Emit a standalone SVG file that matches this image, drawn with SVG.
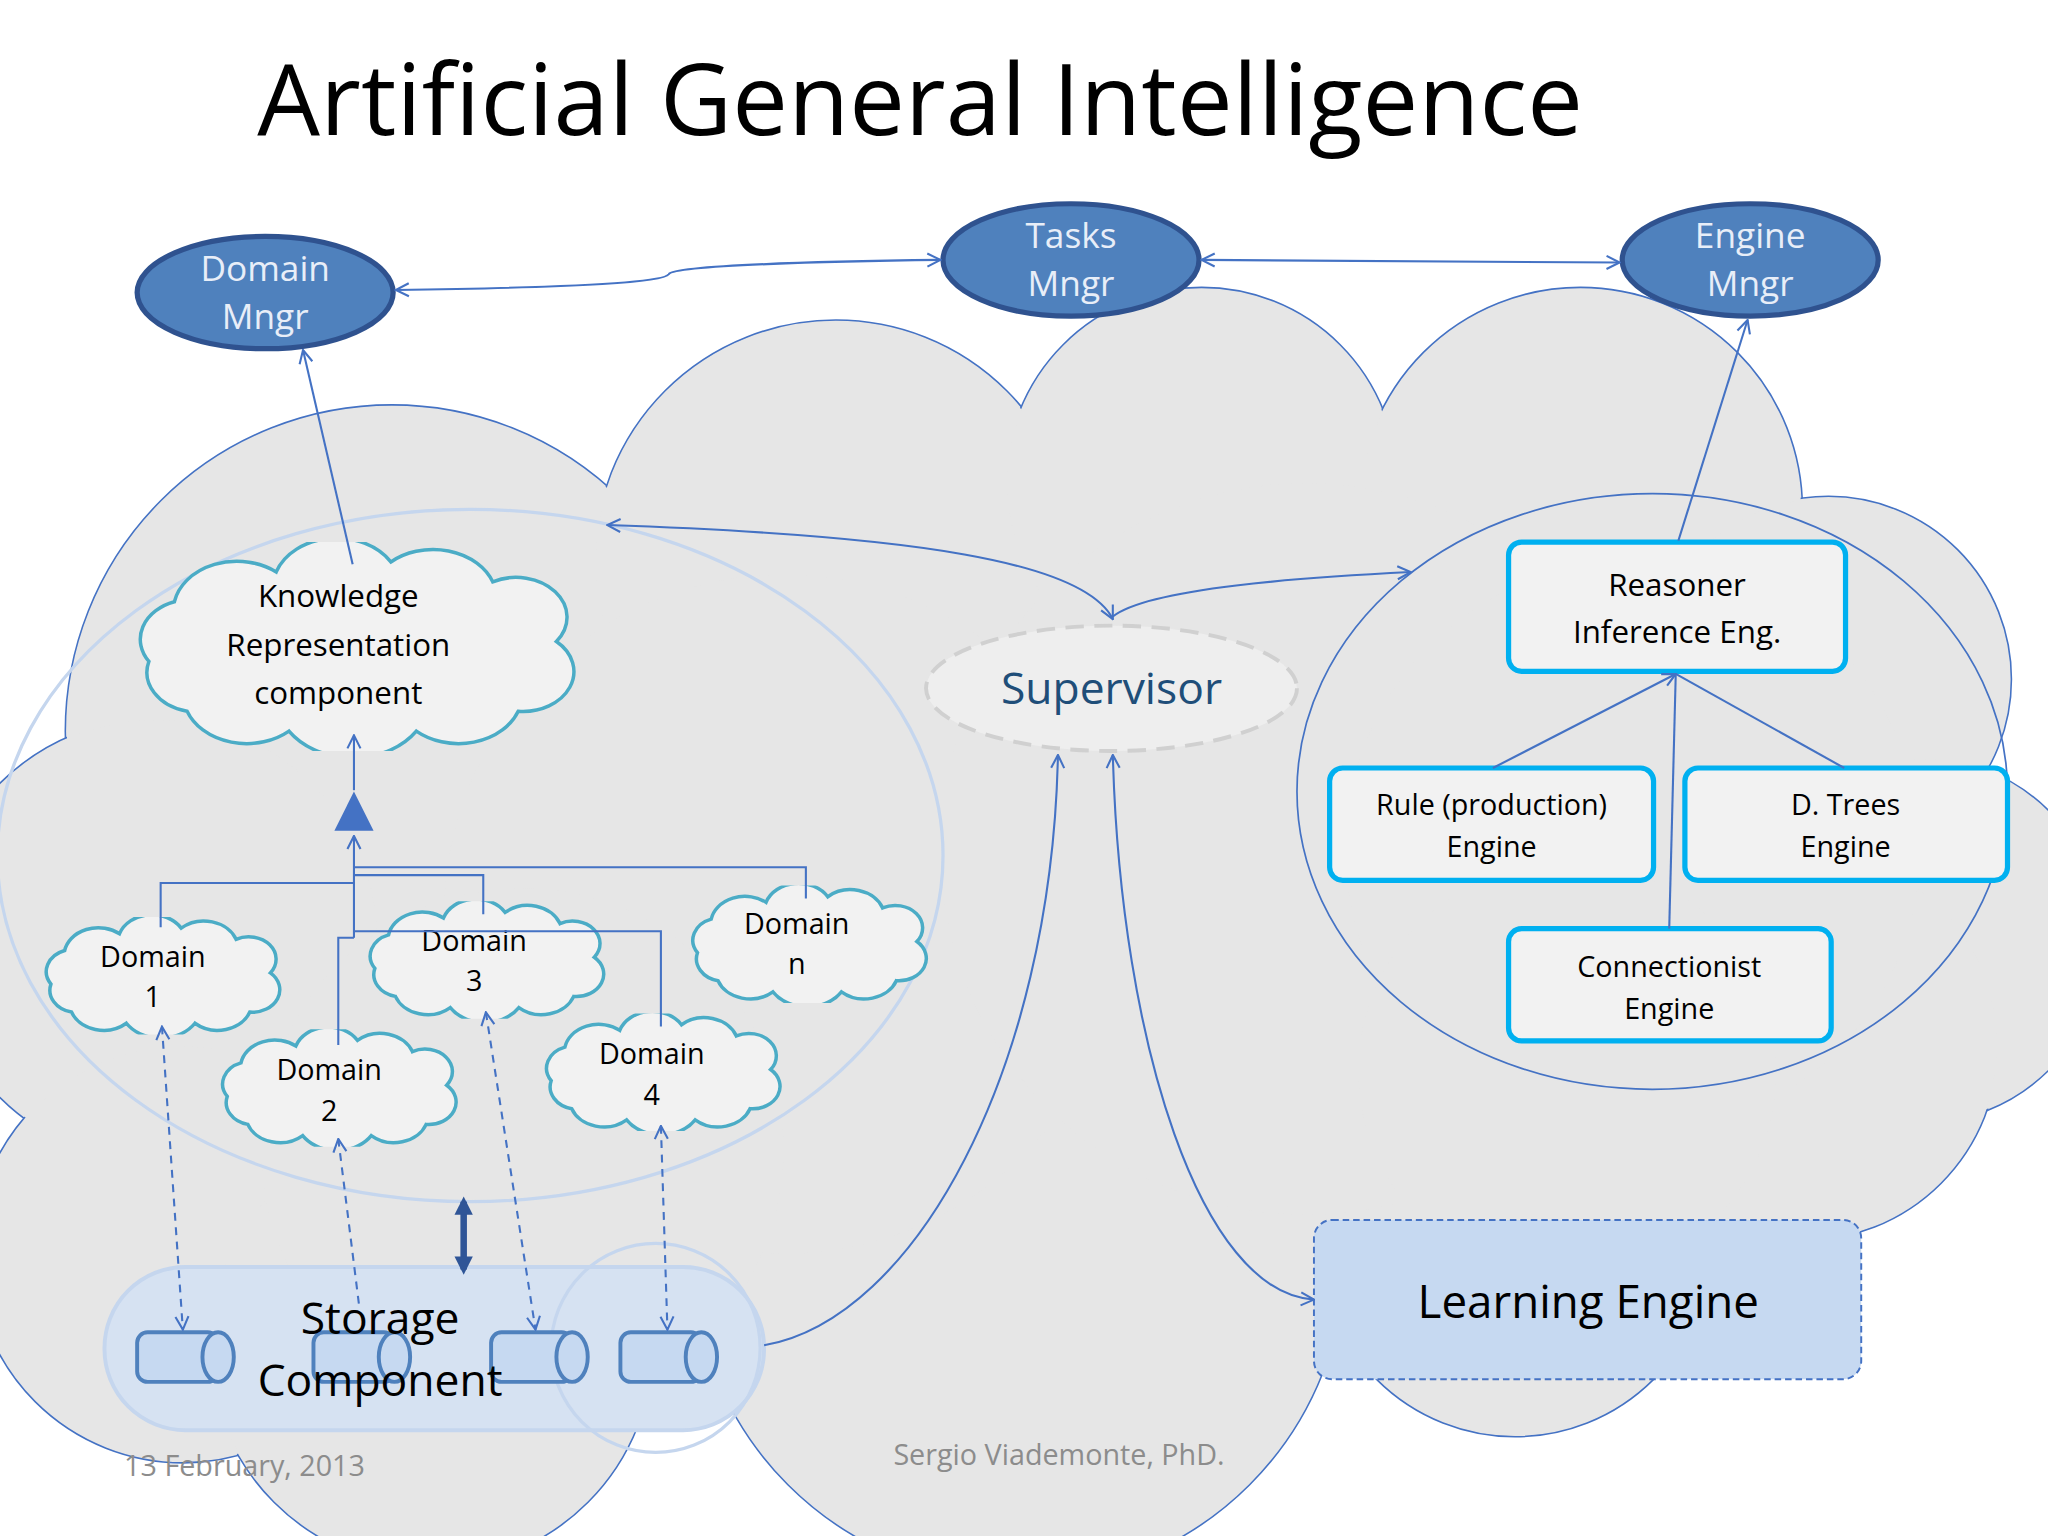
<svg xmlns="http://www.w3.org/2000/svg" width="2048" height="1536" viewBox="0 0 2048 1536">
<style>
text{font-family:"Open Sans","Liberation Sans",sans-serif}
.lob{fill:#e6e6e6;stroke:#4472c4;stroke-width:1.2}
.lobf{fill:#e6e6e6}
.c{fill:none;stroke:#4472c4;stroke-width:1.6}
.d{fill:none;stroke:#4472c4;stroke-width:1.6;stroke-dasharray:6 5}
.mg{fill:#4f81bd;stroke:#2f528f;stroke-width:4}
.mt{fill:#e8eef8;font-size:27px;text-anchor:middle}
.bx{fill:#f2f2f2;stroke:#00b0f0;stroke-width:4}
.bt{fill:#000;font-size:24px;text-anchor:middle}
.cl{fill:#f2f2f2;stroke:#4bacc6;stroke-width:3.5}
.ct{fill:#000;font-size:22px;text-anchor:middle}
</style>
<defs>
<marker id="a" viewBox="0 0 12 12" refX="11" refY="6" markerWidth="12" markerHeight="12" markerUnits="userSpaceOnUse" orient="auto-start-reverse"><path d="M1,1 L11,6 L1,11" fill="none" stroke="#4472c4" stroke-width="1.6"/></marker>
<symbol id="cloud" viewBox="0 0 200 105" preserveAspectRatio="none"><path vector-effect="non-scaling-stroke" d="M20,60 a20,20 0 0 1 10,-30 a25,25 0 0 1 40,-15 a25,25 0 0 1 45,-5 a25,25 0 0 1 40,10 a20,20 0 0 1 25,30 a20,20 0 0 1 -15,35 a25,25 0 0 1 -40,10 a30,30 0 0 1 -50,0 a25,25 0 0 1 -40,-10 a20,20 0 0 1 -15,-25 z"/></symbol>
</defs>
<rect width="2048" height="1536" fill="#fff"/>
<g transform="scale(1.30612)">
<g id="bigcloud">
<g class="lob">
<circle cx="300" cy="560" r="250"/><circle cx="640" cy="430" r="185"/><circle cx="920" cy="370" r="150"/><circle cx="1210" cy="390" r="170"/><circle cx="1400" cy="520" r="140"/><circle cx="1470" cy="720" r="140"/><circle cx="1380" cy="800" r="150"/><circle cx="1160" cy="950" r="150"/><circle cx="780" cy="960" r="250"/><circle cx="120" cy="720" r="170"/><circle cx="140" cy="960" r="160"/><circle cx="330" cy="1030" r="170"/>
</g>
<g class="lobf">
<circle cx="300" cy="560" r="248.8"/><circle cx="640" cy="430" r="183.8"/><circle cx="920" cy="370" r="148.8"/><circle cx="1210" cy="390" r="168.8"/><circle cx="1400" cy="520" r="138.8"/><circle cx="1470" cy="720" r="138.8"/><circle cx="1380" cy="800" r="148.8"/><circle cx="1160" cy="950" r="148.8"/><circle cx="780" cy="960" r="248.8"/><circle cx="120" cy="720" r="168.8"/><circle cx="140" cy="960" r="158.8"/><circle cx="330" cy="1030" r="168.8"/>
<circle cx="600" cy="700" r="260"/><circle cx="1000" cy="650" r="280"/><circle cx="1250" cy="650" r="220"/><circle cx="400" cy="880" r="200"/><circle cx="1200" cy="820" r="160"/>
</g>
</g>
<ellipse cx="360" cy="655" rx="362" ry="265" fill="none" stroke="#c5d6ee" stroke-width="2.5"/>
<ellipse cx="1265" cy="606" rx="272" ry="228" fill="none" stroke="#4472c4" stroke-width="1.3"/>
<text x="197" y="103" font-size="76" textLength="1015" fill="#000">Artificial General Intelligence</text>
<g id="storage">
<rect x="80" y="970" width="505" height="125" rx="62" fill="#d6e2f2" stroke="#c5d6ee" stroke-width="3"/>
<circle cx="502" cy="1032" r="80" fill="none" stroke="#c5d6ee" stroke-width="2.5"/>
<g fill="#c6d9f1" stroke="#4f81bd" stroke-width="3">
<rect x="105" y="1020" width="62" height="38" rx="8"/><ellipse cx="167" cy="1039" rx="12" ry="19"/>
<rect x="240" y="1020" width="62" height="38" rx="8"/><ellipse cx="302" cy="1039" rx="12" ry="19"/>
<rect x="376" y="1020" width="62" height="38" rx="8"/><ellipse cx="438" cy="1039" rx="12" ry="19"/>
<rect x="475" y="1020" width="62" height="38" rx="8"/><ellipse cx="537" cy="1039" rx="12" ry="19"/>
</g>
<text x="291" y="1021" font-size="34" text-anchor="middle">Storage</text>
<text x="291" y="1069" font-size="34" text-anchor="middle">Component</text>
</g>
<g id="domain-mngr"><ellipse class="mg" cx="203" cy="224" rx="98" ry="43"/><text class="mt" x="203" y="215">Domain</text><text class="mt" x="203" y="252">Mngr</text></g>
<g id="tasks-mngr"><ellipse class="mg" cx="820" cy="199" rx="98" ry="43"/><text class="mt" x="820" y="190">Tasks</text><text class="mt" x="820" y="227">Mngr</text></g>
<g id="engine-mngr"><ellipse class="mg" cx="1340" cy="199" rx="98" ry="43"/><text class="mt" x="1340" y="190">Engine</text><text class="mt" x="1340" y="227">Mngr</text></g>
<g id="knowledge"><use href="#cloud" class="cl" x="75" y="415" width="390" height="160"/><text class="bt" x="259" y="465">Knowledge</text><text class="bt" x="259" y="502">Representation</text><text class="bt" x="259" y="539">component</text></g>
<g id="d1"><use href="#cloud" class="cl" x="18" y="702" width="210" height="90"/><text class="ct" x="117" y="740">Domain</text><text class="ct" x="117" y="771">1</text></g>
<g id="d3"><use href="#cloud" class="cl" x="266" y="690" width="210" height="90"/><text class="ct" x="363" y="728">Domain</text><text class="ct" x="363" y="759">3</text></g>
<g id="dn"><use href="#cloud" class="cl" x="513" y="678" width="210" height="90"/><text class="ct" x="610" y="715">Domain</text><text class="ct" x="610" y="746">n</text></g>
<g id="d2"><use href="#cloud" class="cl" x="153" y="788" width="210" height="90"/><text class="ct" x="252" y="827">Domain</text><text class="ct" x="252" y="858">2</text></g>
<g id="d4"><use href="#cloud" class="cl" x="401" y="776" width="210" height="90"/><text class="ct" x="499" y="815">Domain</text><text class="ct" x="499" y="846">4</text></g>
<g id="supervisor"><ellipse cx="851" cy="527" rx="142" ry="48" fill="#eeeeee" stroke="#d0d0d0" stroke-width="3" stroke-dasharray="14 8"/><text x="851" y="539" font-size="34" fill="#1f4e79" text-anchor="middle">Supervisor</text></g>
<g id="reasoner"><rect class="bx" x="1155" y="415" width="258" height="99" rx="10"/><text class="bt" x="1284" y="456" font-size="26">Reasoner</text><text class="bt" x="1284" y="492" font-size="26">Inference Eng.</text></g>
<g id="rule"><rect class="bx" x="1018" y="588" width="248" height="86" rx="10"/><text class="ct" x="1142" y="624">Rule (production)</text><text class="ct" x="1142" y="656">Engine</text></g>
<g id="dtrees"><rect class="bx" x="1290" y="588" width="247" height="86" rx="10"/><text class="ct" x="1413" y="624">D. Trees</text><text class="ct" x="1413" y="656">Engine</text></g>
<g id="connectionist"><rect class="bx" x="1155" y="711" width="247" height="86" rx="10"/><text class="ct" x="1278" y="748">Connectionist</text><text class="ct" x="1278" y="780">Engine</text></g>
<g id="learning"><rect x="1006" y="934" width="419" height="122" rx="14" fill="#c6d9f1" stroke="#4472c4" stroke-width="1.5" stroke-dasharray="5 3"/><text x="1216" y="1009" font-size="35" text-anchor="middle">Learning  Engine</text></g>
<g id="connectors">
<path class="c" d="M303,222 C450,220 508,216 512,210 C516,203 640,200 720,199" marker-start="url(#a)" marker-end="url(#a)"/>
<path class="c" d="M920,199 L1240,201" marker-start="url(#a)" marker-end="url(#a)"/>
<path class="c" d="M270,432 L232,268" marker-end="url(#a)"/>
<path class="c" d="M1285,414 L1338,245" marker-end="url(#a)"/>
<path class="c" d="M465,402 C700,410 830,430 852,474" marker-start="url(#a)" marker-end="url(#a)"/>
<path class="c" d="M852,472 C880,450 1000,442 1080,438" marker-end="url(#a)"/>
<path class="c" d="M271,605 L271,563" marker-end="url(#a)"/>
<polygon points="271,606 256,636 286,636" fill="#4472c4"/>
<path class="c" d="M271,718 L271,640" marker-end="url(#a)"/>
<path class="c" d="M123,710 V676 H271 M271,664 H617 V688 M271,670 H370 V700 M259,800 V718 H271 M271,713 H506 V786"/>
<path class="d" d="M124,786 L140,1018" marker-start="url(#a)" marker-end="url(#a)"/>
<path class="d" d="M259,872 L275,1000" marker-start="url(#a)"/>
<path class="d" d="M372,775 L410,1018" marker-start="url(#a)" marker-end="url(#a)"/>
<path class="d" d="M506,862 L511,1018" marker-start="url(#a)" marker-end="url(#a)"/>
<path d="M355,920 V972" stroke="#2f5597" stroke-width="5"/>
<polygon points="355,916 348,930 362,930" fill="#2f5597"/><polygon points="355,976 348,962 362,962" fill="#2f5597"/>
<path class="c" d="M585,1030 C700,1010 805,820 810,578" marker-end="url(#a)"/>
<path class="c" d="M852,578 C858,800 920,990 1006,995" marker-start="url(#a)" marker-end="url(#a)"/>
<path class="c" d="M1143,588 L1283,516" marker-end="url(#a)"/>
<path class="c" d="M1412,588 L1283,516"/>
<path class="c" d="M1278,711 L1283,516"/>
</g>
<text x="95" y="1130" font-size="22" fill="#8c8c8c">13 February, 2013</text>
<text x="684" y="1122" font-size="22" fill="#8c8c8c">Sergio Viademonte, PhD.</text>
</g>
</svg>
